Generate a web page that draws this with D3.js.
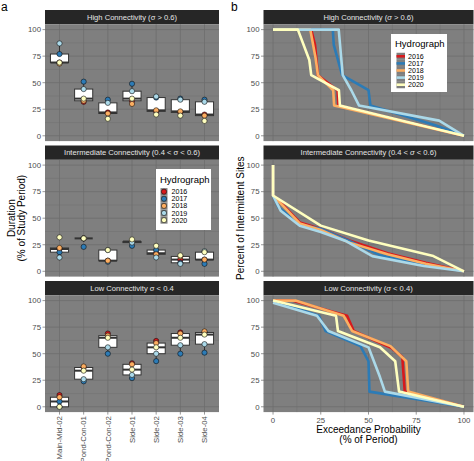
<!DOCTYPE html>
<html>
<head>
<meta charset="utf-8">
<script src="https://cdnjs.cloudflare.com/ajax/libs/d3/7.8.5/d3.min.js"></script>
<style>
body { margin: 0; background: #fff; }
svg { display: block; font-family: "Liberation Sans", Arial, sans-serif; }
</style>
</head>
<body>
<svg id="chart" width="474" height="461"></svg>
<script>
// ---- data ----
var sites = ["Main-Mid-02", "Pond-Con-01", "Pond-Con-02", "Side-01", "Side-02", "Side-03", "Side-04"];
var years = ["2016", "2017", "2018", "2019", "2020"];
var yearColors = ["#d7191c", "#2c7bb6", "#fdae61", "#abd9e9", "#ffffbf"];
var yTicks = [0, 25, 50, 75, 100];
var xTicks = [0, 25, 50, 75, 100];
var stripsA = ["High Connectivity (\u03c3 > 0.6)", "Intermediate Connectivity (0.4 < \u03c3 < 0.6)", "Low Connectivity \u03c3 < 0.4"];
var stripsB = ["High Connectivity (", "Intermediate Connectivity (0.4 < ", "Low Connectivity ("];
var stripsBtail = [" > 0.6)", " < 0.6)", " < 0.4)"];

// duration (% of study period), one row per year, one value per site
var highDur = [
  [69, 32, 22, 33, 23, 22, 20],
  [77, 51, 34, 49, 36, 35, 34],
  [68, 33, 21, 30, 24, 23, 19],
  [87, 44, 31, 42, 37, 34, 32],
  [69, 35, 16, 35, 20, 19, 14]
];
var midDur = [
  [21, 31, 10, 28, 17, 11, 11],
  [18, 23, 9, 24, 20, 8, 7],
  [22, 31, 10, 28, 16, 14, 11],
  [13, 31, 20, 27, 13, 7, 19],
  [32, 31, 20, 30, 24, 15, 18]
];
var lowDur = [
  [11, 37, 69, 41, 62, 70, 70],
  [5, 24, 50, 27, 43, 50, 51],
  [9, 38, 67, 40, 60, 69, 71],
  [0, 26, 56, 30, 50, 58, 59],
  [0, 34, 65, 35, 56, 65, 68]
];

// exceedance curves [exceedance %, percent of sites], one per year
var highCurves = [
  [[0,100],[20,100],[22,85.7],[23.5,57.1],[33.8,42.9],[34.2,28.6],[100,0]],
  [[0,100],[31.3,100],[31.8,85.7],[36.2,57.1],[50,42.9],[51,28.6],[85,10],[100,0]],
  [[0,100],[19.5,100],[22.3,73],[23.5,57.1],[31.5,42.9],[32,28.6],[100,0]],
  [[0,100],[34.4,100],[36.5,57.1],[41,42.9],[45,28.6],[87,14.3],[100,0]],
  [[0,100],[13,100],[19,71.4],[20,57.1],[34.5,42.9],[35,28.6],[100,0]]
];
var midCurves = [
  [[0,100],[0,71.4],[5,63],[14,46],[25,40],[40,29],[60,17],[80,8],[100,0]],
  [[0,100],[0,71.4],[3,60],[14,44],[25,40],[40,28.6],[56,15],[80,6],[100,0]],
  [[0,100],[0,71.4],[5,62],[14,45],[25,39],[40,27],[60,16],[80,7],[100,0]],
  [[0,100],[0,71.4],[4,57],[14,42.9],[25,37],[38,28.6],[52,14.3],[79,5],[100,0]],
  [[0,100],[0,71.4],[25,43],[50,29],[84,14.3],[100,0]]
];
var lowCurves = [
  [[0,100],[10,100],[38.8,85.7],[42.3,71.4],[62.4,55],[67.7,46.8],[69,14.3],[100,0]],
  [[0,100],[24,85.7],[27.5,71.4],[45.8,57.1],[50,42.9],[50.5,14.3],[100,0]],
  [[0,100],[11.7,100],[37,85.7],[41.4,71.4],[61.5,57.1],[69.8,42.9],[70.8,14.3],[100,0]],
  [[0,98],[23,85.7],[29,71.4],[50,56],[56,28],[58.6,14.3],[100,0]],
  [[0,100],[33,85.7],[34,71.4],[56,56],[64,42.9],[66,14.3],[100,0]]
];

// ---- layout ----
var svg = d3.select("#chart");
var rowTop = [10, 145.5, 281];
var stripH = 14.3, panelH = 116.8;
var leftX0 = 45, leftX1 = 219, rightX0 = 263.5, rightX1 = 473.5;
var panelBg = "#7f7f7f", gridCol = "#6b6b6b", axisTxt = "#4d4d4d";

function yScaleFor(r) {
  var top = rowTop[r] + stripH;
  return d3.scaleLinear().domain([-5, 105]).range([top + panelH, top]);
}

function drawStrip(x0, x1, r, label, italic, tail) {
  svg.append("rect").attr("x", x0).attr("y", rowTop[r]).attr("width", x1 - x0).attr("height", stripH)
    .attr("fill", "#262626");
  var t = svg.append("text").attr("x", (x0 + x1) / 2).attr("y", rowTop[r] + stripH / 2 + 2.7)
    .attr("text-anchor", "middle").attr("font-size", 7.6).attr("fill", "#e5e5e5");
  if (italic) {
    t.append("tspan").text(label);
    t.append("tspan").attr("font-style", "italic").text("\u03c3");
    t.append("tspan").text(tail);
  } else {
    t.text(label);
  }
}

function drawYAxis(x0, y) {
  var g = svg.append("g");
  yTicks.forEach(function (v) {
    g.append("line").attr("x1", x0 - 2.5).attr("x2", x0).attr("y1", y(v)).attr("y2", y(v))
      .attr("stroke", "#333").attr("stroke-width", 0.5);
    g.append("text").attr("x", x0 - 4).attr("y", y(v) + 2.8).attr("text-anchor", "end")
      .attr("font-size", 7.8).attr("fill", axisTxt).text(v);
  });
}

function drawPanelBg(x0, x1, y, xMinor, xMajor) {
  svg.append("rect").attr("x", x0).attr("y", y.range()[1]).attr("width", x1 - x0)
    .attr("height", y.range()[0] - y.range()[1]).attr("fill", panelBg);
  [12.5, 37.5, 62.5, 87.5].forEach(function (v) {
    svg.append("line").attr("x1", x0).attr("x2", x1).attr("y1", y(v)).attr("y2", y(v))
      .attr("stroke", gridCol).attr("stroke-width", 0.35);
  });
  if (xMinor) {
    xMinor.forEach(function (xv) {
      svg.append("line").attr("x1", xv).attr("x2", xv).attr("y1", y.range()[1]).attr("y2", y.range()[0])
        .attr("stroke", gridCol).attr("stroke-width", 0.35);
    });
  }
  yTicks.forEach(function (v) {
    svg.append("line").attr("x1", x0).attr("x2", x1).attr("y1", y(v)).attr("y2", y(v))
      .attr("stroke", gridCol).attr("stroke-width", 0.7);
  });
  xMajor.forEach(function (xv) {
    svg.append("line").attr("x1", xv).attr("x2", xv).attr("y1", y.range()[1]).attr("y2", y.range()[0])
      .attr("stroke", gridCol).attr("stroke-width", 0.7);
  });
}

// ---- left column (a): boxplots ----
var xSite = d3.scalePoint().domain(sites).range([leftX0, leftX1]).padding(0.6);
var boxW = xSite.step() * 0.75;
var leftData = [highDur, midDur, lowDur];

leftData.forEach(function (dur, r) {
  var y = yScaleFor(r);
  drawStrip(leftX0, leftX1, r, stripsA[r], false);
  drawPanelBg(leftX0, leftX1, y, null, sites.map(function (s) { return xSite(s); }));
  drawYAxis(leftX0, y);

  sites.forEach(function (s, i) {
    var vals = dur.map(function (row) { return row[i]; }).sort(d3.ascending);
    var q1 = d3.quantile(vals, 0.25), med = d3.quantile(vals, 0.5), q3 = d3.quantile(vals, 0.75);
    var iqr = q3 - q1;
    var lo = d3.min(vals.filter(function (v) { return v >= q1 - 1.5 * iqr; }));
    var hi = d3.max(vals.filter(function (v) { return v <= q3 + 1.5 * iqr; }));
    var cx = xSite(s);
    svg.append("line").attr("x1", cx).attr("x2", cx).attr("y1", y(hi)).attr("y2", y(q3))
      .attr("stroke", "#333").attr("stroke-width", 1);
    svg.append("line").attr("x1", cx).attr("x2", cx).attr("y1", y(q1)).attr("y2", y(lo))
      .attr("stroke", "#333").attr("stroke-width", 1);
    svg.append("rect").attr("x", cx - boxW / 2).attr("y", y(q3)).attr("width", boxW)
      .attr("height", Math.max(0, y(q1) - y(q3))).attr("fill", "#fff")
      .attr("stroke", "#333").attr("stroke-width", 1);
    svg.append("line").attr("x1", cx - boxW / 2).attr("x2", cx + boxW / 2).attr("y1", y(med)).attr("y2", y(med))
      .attr("stroke", "#333").attr("stroke-width", 2);
  });

  dur.forEach(function (row, k) {
    row.forEach(function (v, i) {
      svg.append("circle").attr("cx", xSite(sites[i])).attr("cy", y(v)).attr("r", 2.6)
        .attr("fill", yearColors[k]).attr("stroke", "#111").attr("stroke-width", 0.6);
    });
  });
});

// left x axis labels (bottom row)
(function () {
  var base = yScaleFor(2).range()[0];
  sites.forEach(function (s) {
    svg.append("line").attr("x1", xSite(s)).attr("x2", xSite(s)).attr("y1", base).attr("y2", base + 2.5)
      .attr("stroke", "#333").attr("stroke-width", 0.5);
    svg.append("text").attr("transform", "translate(" + (xSite(s) + 2.8) + "," + (base + 4) + ") rotate(-90)")
      .attr("text-anchor", "end").attr("font-size", 7.8).attr("fill", axisTxt).text(s);
  });
})();

// left legend
(function () {
  var g = svg.append("g");
  g.append("rect").attr("x", 156).attr("y", 169).attr("width", 55).attr("height", 61).attr("fill", "#fff");
  g.append("text").attr("x", 160).attr("y", 182.5).attr("font-size", 9.5).attr("fill", "#000").text("Hydrograph");
  years.forEach(function (yr, k) {
    var cy = 191.7 + k * 7.1;
    g.append("rect").attr("x", 160.5).attr("y", cy - 3.55).attr("width", 7).attr("height", 7.1).attr("fill", panelBg);
    g.append("circle").attr("cx", 164).attr("cy", cy).attr("r", 2.6)
      .attr("fill", yearColors[k]).attr("stroke", "#111").attr("stroke-width", 0.6);
    g.append("text").attr("x", 171.5).attr("y", cy + 2.5).attr("font-size", 7.1).attr("fill", "#000").text(yr);
  });
})();

// ---- right column (b): exceedance curves ----
var xExc = d3.scaleLinear().domain([-5, 105]).range([rightX0, rightX1]);
var rightData = [highCurves, midCurves, lowCurves];

rightData.forEach(function (curves, r) {
  var y = yScaleFor(r);
  drawStrip(rightX0, rightX1, r, stripsB[r], true, stripsBtail[r]);
  drawPanelBg(rightX0, rightX1, y, [12.5, 37.5, 62.5, 87.5].map(xExc), xTicks.map(xExc));
  drawYAxis(rightX0, y);
  var ln = d3.line().x(function (d) { return xExc(d[0]); }).y(function (d) { return y(d[1]); });
  curves.forEach(function (c, k) {
    svg.append("path").attr("d", ln(c)).attr("fill", "none").attr("stroke", yearColors[k])
      .attr("stroke-width", 2.6).attr("stroke-linejoin", "round");
  });
});

// right x axis
(function () {
  var base = yScaleFor(2).range()[0];
  xTicks.forEach(function (v) {
    svg.append("line").attr("x1", xExc(v)).attr("x2", xExc(v)).attr("y1", base).attr("y2", base + 2.5)
      .attr("stroke", "#333").attr("stroke-width", 0.5);
    svg.append("text").attr("x", xExc(v)).attr("y", base + 10.5).attr("text-anchor", "middle")
      .attr("font-size", 7.8).attr("fill", axisTxt).text(v);
  });
  var cx = (rightX0 + rightX1) / 2;
  svg.append("text").attr("x", cx).attr("y", 433).attr("text-anchor", "middle").attr("font-size", 10)
    .text("Exceedance Probability");
  svg.append("text").attr("x", cx).attr("y", 443).attr("text-anchor", "middle").attr("font-size", 10)
    .text("(% of Period)");
})();

// right legend
(function () {
  var g = svg.append("g");
  g.append("rect").attr("x", 391).attr("y", 34).attr("width", 56).attr("height", 58).attr("fill", "#fff");
  g.append("text").attr("x", 395).attr("y", 46.7).attr("font-size", 9.5).attr("fill", "#000").text("Hydrograph");
  years.forEach(function (yr, k) {
    var cy = 56.3 + k * 7.1;
    g.append("rect").attr("x", 396.5).attr("y", cy - 3.55).attr("width", 8.5).attr("height", 7.1).attr("fill", panelBg);
    g.append("line").attr("x1", 396.5).attr("x2", 405).attr("y1", cy).attr("y2", cy)
      .attr("stroke", yearColors[k]).attr("stroke-width", 2.6);
    g.append("text").attr("x", 408).attr("y", cy + 2.5).attr("font-size", 7.1).attr("fill", "#000").text(yr);
  });
})();

// axis titles and panel tags
var midY = (rowTop[0] + stripH + rowTop[2] + stripH + panelH) / 2;
svg.append("text").attr("transform", "translate(15," + midY + ") rotate(-90)").attr("text-anchor", "middle")
  .attr("font-size", 10).text("Duration");
svg.append("text").attr("transform", "translate(25," + midY + ") rotate(-90)").attr("text-anchor", "middle")
  .attr("font-size", 10).text("(% of Study Period)");
svg.append("text").attr("transform", "translate(244," + midY + ") rotate(-90)").attr("text-anchor", "middle")
  .attr("font-size", 10).text("Percent of Intermittent Sites");
svg.append("text").attr("x", 1).attr("y", 11).attr("font-size", 12).text("a");
svg.append("text").attr("x", 231).attr("y", 11).attr("font-size", 12).text("b");
</script>
</body>
</html>
